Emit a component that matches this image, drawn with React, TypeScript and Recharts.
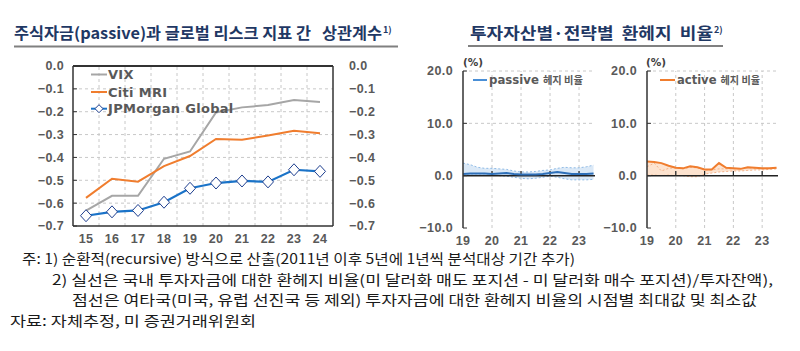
import React from 'react';
import {
  LineChart,
  ComposedChart,
  Line,
  Area,
  XAxis,
  YAxis,
  CartesianGrid,
  ReferenceLine,
} from 'recharts';

// 왼쪽: 상관계수 (15~24년)
const years = [15, 16, 17, 18, 19, 20, 21, 22, 23, 24];
const vix = [-0.633, -0.568, -0.568, -0.406, -0.374, -0.203, -0.181, -0.171, -0.149, -0.157];
const citi = [-0.577, -0.493, -0.506, -0.438, -0.394, -0.319, -0.323, -0.304, -0.283, -0.294];
const jpm = [-0.655, -0.638, -0.632, -0.596, -0.535, -0.512, -0.503, -0.507, -0.454, -0.461];
const corrTicks = [0, -0.1, -0.2, -0.3, -0.4, -0.5, -0.6, -0.7];

// 오른쪽: 환헤지 비율 (분기, 19~23.5)
const hedgeX = [19, 19.25, 19.5, 19.75, 20, 20.25, 20.5, 20.75, 21, 21.25, 21.5, 21.75, 22, 22.25, 22.5, 22.75, 23, 23.25, 23.5];
const passiveMain = [0.3, 0.4, 0.4, 0.4, 0.3, 0.4, 0.5, 0.3, 0.2, 0.2, 0.2, 0.3, 0.5, 0.7, 0.5, 0.3, 0.3, 0.3, 0.4];
const passiveHigh = [2.4, 2.1, 1.6, 1.4, 1.4, 1.3, 1.2, 0.9, 0.7, 0.7, 0.8, 1.0, 1.1, 1.4, 1.6, 1.5, 1.5, 1.7, 2.0];
const passiveLow = [0.1, 0.1, 0.1, 0.1, 0.1, 0.0, -0.1, -0.3, -0.5, -0.6, -0.5, -0.3, -0.1, -0.3, -0.6, -0.8, -0.8, -0.8, -0.7];
const activeMain = [2.7, 2.6, 2.4, 1.9, 1.5, 1.4, 1.8, 1.6, 1.2, 1.2, 2.4, 1.5, 1.4, 1.3, 1.6, 1.5, 1.4, 1.4, 1.5];
const activeHigh = [1.7, 2.4, 0.9, 1.4, 1.5, 1.3, 1.6, 1.5, 1.1, 1.1, 1.3, 1.3, 1.3, 1.3, 1.5, 1.4, 1.3, 1.4, 1.4];
const activeLow = [0.1, 0.1, 0.0, 0.1, 0.0, 0.0, -0.2, -0.2, 0.3, 0.5, 0.7, 0.8, 0.9, 0.9, 1.0, 1.1, 1.1, 1.2, 1.3];
const hedgeYears = [19, 20, 21, 22, 23];
const hedgeTicks = [-10, 0, 10, 20];

const NUM = '"Liberation Sans", Arial, sans-serif';
const LEG = '"DejaVu Sans", "Noto Sans CJK KR", sans-serif';
const KR = '"Noto Sans CJK KR", sans-serif';
const TICK = { fill: '#595959', fontSize: 12.5, fontWeight: 700, fontFamily: NUM, letterSpacing: 0.4 };
const GRID = '#c8c8c8';
const AXIS = '#333';

const fmtCorr = (v: number) => (v === 0 ? '0.0' : '−' + Math.abs(v).toFixed(1));
const fmtPct = (v: number) => (v < 0 ? '−' : '') + Math.abs(v).toFixed(1);

function Diamond(props: any) {
  const { cx, cy } = props;
  if (cx == null || cy == null) return null;
  return (
    <path
      d={`M${cx},${cy - 6}L${cx + 5.5},${cy}L${cx},${cy + 6}L${cx - 5.5},${cy}Z`}
      fill="#fff"
      stroke="#1f3f8f"
      strokeWidth={1}
    />
  );
}

function CorrChart() {
  const data = years.map((y, i) => ({ year: y, vix: vix[i], citi: citi[i], jpm: jpm[i] }));
  return (
    <div style={{ position: 'absolute', left: 0, top: 50 }}>
      <LineChart width={400} height={201} data={data} margin={{ top: 15, right: 0, bottom: 0, left: 0 }}>
        {corrTicks.slice(1, -1).map((v) => (
          <ReferenceLine key={'g' + v} y={v} stroke={GRID} strokeDasharray="3 3" />
        ))}
        {years.slice(1).map((y) => (
          <ReferenceLine key={y} x={y - 0.5} stroke={GRID} strokeDasharray="3 3" />
        ))}
        <XAxis
          dataKey="year"
          type="number"
          domain={[14.5, 24.5]}
          ticks={years}
          interval={0}
          tickLine={false}
          axisLine={{ stroke: AXIS, strokeWidth: 1.5 }}
          tick={TICK}
          height={25}
        />
        {/* 위쪽 테두리 */}
        <XAxis
          xAxisId="top"
          orientation="top"
          dataKey="year"
          type="number"
          domain={[14.5, 24.5]}
          tick={false}
          tickLine={false}
          axisLine={{ stroke: AXIS, strokeWidth: 1.5 }}
          height={1}
        />
        <YAxis
          domain={[-0.7, 0]}
          ticks={corrTicks}
          interval={0}
          width={73}
          tickSize={-4}
          tickMargin={13}
          tickFormatter={fmtCorr}
          axisLine={{ stroke: AXIS, strokeWidth: 1.5 }}
          tickLine={{ stroke: AXIS }}
          tick={TICK}
        />
        <YAxis
          yAxisId="r"
          orientation="right"
          domain={[-0.7, 0]}
          ticks={corrTicks}
          interval={0}
          width={67}
          tickSize={0}
          tickMargin={16}
          tickFormatter={fmtCorr}
          axisLine={{ stroke: AXIS, strokeWidth: 1.5 }}
          tick={TICK}
        />
        <ReferenceLine y={0} stroke={AXIS} strokeWidth={2} ifOverflow="extendDomain" />
        {/* 보조 축을 그리기 위한 보이지 않는 계열 */}
        <Line yAxisId="r" dataKey="vix" stroke="none" dot={false} activeDot={false} legendType="none" isAnimationActive={false} />
        <Line xAxisId="top" dataKey="vix" stroke="none" dot={false} activeDot={false} legendType="none" isAnimationActive={false} />
        <Line dataKey="vix" stroke="#a6a6a6" strokeWidth={2} dot={false} isAnimationActive={false} />
        <Line dataKey="citi" stroke="#f07d2e" strokeWidth={2} dot={false} isAnimationActive={false} />
        <Line
          dataKey="jpm"
          stroke="#1a73c8"
          strokeWidth={2.2}
          dot={(p: any) => <Diamond key={p.index} {...p} />}
          isAnimationActive={false}
        />
      </LineChart>
    </div>
  );
}

type PanelProps = {
  left: number;
  right: number;
  main: number[];
  high: number[];
  low: number[];
  line: string;
  fill: string;
  bound: string;
  toMain?: boolean;
};

function HedgePanel({ left, right, main, high, low, line, fill, bound, toMain }: PanelProps) {
  const data = hedgeX.map((x, i) => ({
    x,
    main: main[i],
    high: high[i],
    low: low[i],
    band: [low[i], toMain ? main[i] : high[i]],
  }));
  return (
    <div style={{ position: 'absolute', left, top: 50 }}>
      <ComposedChart width={200} height={200} data={data} margin={{ top: 21, right, bottom: 0, left: 0 }}>
        {[10, 20].map((v) => (
          <ReferenceLine key={'h' + v} y={v} stroke={GRID} strokeDasharray="3 3" />
        ))}
        {hedgeYears.slice(1).map((v) => (
          <ReferenceLine key={'v' + v} x={v} stroke={GRID} strokeDasharray="3 3" />
        ))}
        <XAxis
          dataKey="x"
          type="number"
          domain={[19, 23.55]}
          ticks={hedgeYears}
          interval={0}
          tickLine={false}
          axisLine={false}
          tickMargin={2}
          tick={TICK}
          height={22}
        />
        <YAxis
          domain={[-10, 20]}
          ticks={hedgeTicks}
          interval={0}
          width={63}
          tickSize={-4}
          tickMargin={14}
          tickFormatter={fmtPct}
          axisLine={{ stroke: AXIS, strokeWidth: 1.5 }}
          tickLine={{ stroke: AXIS }}
          tick={TICK}
        />
        <Area dataKey="band" stroke="none" fill={fill} fillOpacity={1} isAnimationActive={false} />
        <Line dataKey="high" stroke={bound} strokeWidth={1} strokeDasharray="2 2" dot={false} isAnimationActive={false} />
        <Line dataKey="low" stroke={bound} strokeWidth={1} strokeDasharray="2 2" dot={false} isAnimationActive={false} />
        <ReferenceLine y={0} stroke="#222" strokeWidth={1.5} />
        {hedgeYears.slice(1).map((v) => (
          <ReferenceLine key={'t' + v} segment={[{ x: v, y: 0 }, { x: v, y: 0.9 }]} stroke="#222" strokeWidth={1.2} />
        ))}
        <Line dataKey="main" stroke={line} strokeWidth={2} dot={false} isAnimationActive={false} />
      </ComposedChart>
    </div>
  );
}

function Overlay() {
  const leg = { fill: '#595959', fontWeight: 700, fontFamily: LEG, fontSize: 13, letterSpacing: 0.3 };
  const note = { fill: '#1a1a1a', fontFamily: KR, fontSize: 14 };
  return (
    <svg width={800} height={351} style={{ position: 'absolute', left: 0, top: 0, pointerEvents: 'none' }}>
      {/* titles */}
      <text x={14} y={38.5} textLength={368} lengthAdjust="spacingAndGlyphs" fill="#1f3864" fontFamily={KR} fontSize={15.5} fontWeight={700}>
        {'주식자금(passive)과 글로벌 리스크 지표 간\u00a0\u00a0\u00a0상관계수'}
      </text>
      <text x={383} y={33} fill="#1f3864" fontFamily={KR} fontSize={9} fontWeight={700}>1)</text>
      <line x1={14} x2={398} y1={46.5} y2={46.5} stroke="#808080" strokeWidth={1.8} />
      <text x={470} y={38.5} textLength={243} lengthAdjust="spacingAndGlyphs" fill="#1f3864" fontFamily={KR} fontSize={15.5} fontWeight={700}>
        {'투자자산별·전략별\u00a0\u00a0환헤지\u00a0\u00a0비율'}
      </text>
      <text x={714} y={33} fill="#1f3864" fontFamily={KR} fontSize={9} fontWeight={700}>2)</text>
      <line x1={468} x2={723} y1={46} y2={46} stroke="#808080" strokeWidth={1.8} />

      {/* left legend */}
      <line x1={91} x2={107} y1={74.5} y2={74.5} stroke="#a6a6a6" strokeWidth={2} />
      <text x={108} y={79} {...leg}>VIX</text>
      <line x1={91} x2={107} y1={92} y2={92} stroke="#f07d2e" strokeWidth={2} />
      <text x={108} y={96.5} {...leg}>Citi MRI</text>
      <line x1={91} x2={107} y1={108.7} y2={108.7} stroke="#1a73c8" strokeWidth={2} />
      <path d="M99,104.7L103,108.7L99,112.7L95,108.7Z" fill="#fff" stroke="#1f3f8f" strokeWidth={1} />
      <text x={108} y={113} {...leg}>JPMorgan Global</text>

      {/* right legends */}
      <text x={463} y={66} fill="#404040" fontFamily={LEG} fontWeight={700} fontSize={10.5}>(%)</text>
      <line x1={473} x2={487} y1={80} y2={80} stroke="#4a8fd6" strokeWidth={2} />
      <text x={489} y={84} textLength={94} lengthAdjust="spacingAndGlyphs" fill="#595959" fontFamily={LEG} fontWeight={700} fontSize={12}>
        passive <tspan fontFamily={KR} fontSize={10.5}>헤지 비율</tspan>
      </text>
      <text x={646} y={66} fill="#404040" fontFamily={LEG} fontWeight={700} fontSize={10.5}>(%)</text>
      <line x1={660} x2={675} y1={80} y2={80} stroke="#f07d2e" strokeWidth={2} />
      <text x={677} y={84} textLength={83} lengthAdjust="spacingAndGlyphs" fill="#595959" fontFamily={LEG} fontWeight={700} fontSize={12}>
        active <tspan fontFamily={KR} fontSize={10.5}>헤지 비율</tspan>
      </text>

      {/* notes */}
      <text x={22} y={264} textLength={553} lengthAdjust="spacingAndGlyphs" {...note}>
        주: 1) 순환적(recursive) 방식으로 산출(2011년 이후 5년에 1년씩 분석대상 기간 추가)
      </text>
      <text x={52} y={284.5} textLength={721} lengthAdjust="spacingAndGlyphs" {...note}>
        2) 실선은 국내 투자자금에 대한 환헤지 비율(미 달러화 매도 포지션 - 미 달러화 매수 포지션)/투자잔액),
      </text>
      <text x={72} y={305} textLength={685} lengthAdjust="spacingAndGlyphs" {...note}>
        점선은 여타국(미국, 유럽 선진국 등 제외) 투자자금에 대한 환헤지 비율의 시점별 최대값 및 최소값
      </text>
      <text x={10} y={325.5} textLength={246} lengthAdjust="spacingAndGlyphs" {...note}>
        자료: 자체추정, 미 증권거래위원회
      </text>
    </svg>
  );
}

export default function App() {
  return (
    <div style={{ position: 'absolute', left: 0, top: 0, width: 800, height: 351, background: '#fff', overflow: 'hidden' }}>
      <CorrChart />
      <HedgePanel
        left={400}
        right={5}
        main={passiveMain}
        high={passiveHigh}
        low={passiveLow}
        line="#2e6fb8"
        fill="#dbe9f7"
        bound="#8fbbe6"
      />
      <HedgePanel
        left={584}
        right={6}
        main={activeMain}
        high={activeHigh}
        low={activeLow}
        line="#f07d2e"
        fill="#fde3cf"
        bound="#f5b38a"
        toMain
      />
      <Overlay />
    </div>
  );
}
